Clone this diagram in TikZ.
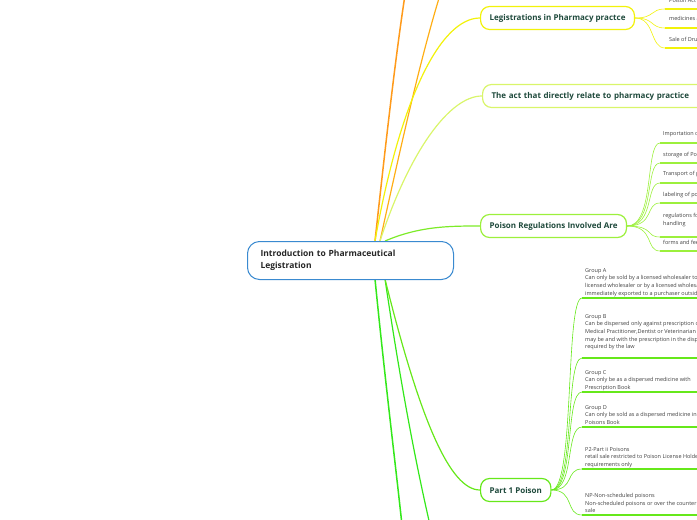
\documentclass[tikz,border=0pt]{standalone}
\usepackage{fontspec}
\setmainfont{Open Sans}
\definecolor{txt}{HTML}{1F4A3C}
\definecolor{yel}{HTML}{F2F20A}
\definecolor{lyel}{HTML}{D9F56A}
\definecolor{lgr}{HTML}{9CF03C}
\definecolor{gr}{HTML}{66E81A}
\definecolor{bgr}{HTML}{33E81A}
\definecolor{org}{HTML}{FF9A1A}
\definecolor{blu}{HTML}{3A8AD0}
\begin{document}
\begin{tikzpicture}[x=1pt,y=-1pt,
  br/.style={draw=#1,line width=1.2pt,rounded corners=9pt,minimum height=23pt,inner xsep=9pt,font=\bfseries\fontsize{8}{10}\selectfont,text=txt,anchor=west},
  leaf/.style={font=\fontsize{5.5}{7.7}\selectfont,text=black!75,anchor=north west,align=left,inner sep=0pt},
  ul/.style={draw=#1,line width=1.2pt}]
\useasboundingbox (0,0) rectangle (697,520);
\clip (0,0) rectangle (697,520);
% central branches
\draw[org,line width=1.5pt] (375,241) .. controls (385,150) and (395,60) .. (405,-5);
\draw[org!80!yellow,line width=1.2pt] (380,241) .. controls (400,150) and (420,60) .. (440,-5);
\draw[bgr,line width=1.5pt] (375,279) .. controls (385,380) and (395,460) .. (402,525);
\draw[bgr,line width=1.2pt] (385,279) .. controls (400,380) and (415,460) .. (430,525);
\draw[yel,line width=1.2pt] (375,241) .. controls (400,100) and (440,18) .. (480,18);
\draw[lyel,line width=1.2pt] (380,241) .. controls (410,150) and (450,96) .. (482,96);
\draw[gr!60!lgr,line width=1.2pt] (385,241) .. controls (420,226) and (450,226) .. (480,226);
\draw[gr,line width=1.2pt] (385,279) .. controls (420,420) and (450,490) .. (480,490);
\node[draw=blu,line width=1pt,rounded corners=12pt,minimum width=205pt,minimum height=38pt,anchor=north west,inner xsep=13pt,align=left,font=\bfseries\fontsize{8.5}{12}\selectfont,text=black!85,text width=180pt,fill=white] (c) at (247,241) {Introduction to Pharmaceutical\\Legistration};
\node[br=yel,fill=white] (b1) at (480,18) {Legistrations in Pharmacy practce};
\node[br=lyel,fill=white,text width=212pt,align=left] (b2) at (482,96) {The act that directly relate to pharmacy practice};
\node[br=lgr,fill=white] (b3) at (480,226) {Poison Regulations Involved Are};
\node[br=gr,fill=white] (b4) at (480,490) {Part 1 Poison};
% b1 leaves
\foreach \t/\y/\u in {Poison Act/-2/9, medicines and/16/28, Sale of Drugs/37/48}{
  \draw[yel,line width=0.6pt] (b1.east) .. controls (655,18) and (650,\u) .. (665,\u);
  \draw[ul=yel] (665,\u) -- (700,\u);
  \node[leaf] at (669,\y) {\t};}
% b3 leaves
\foreach \t/\y/\u in {Importation of poisons/131/143, storage of Poisons/152/163, Transport of poisons/171/183, labeling of poisons/192/203, forms and fees/240/251}{
  \draw[lgr,line width=0.6pt] (b3.east) .. controls (655,226) and (645,\u) .. (660,\u);
  \draw[ul=lgr] (660,\u) -- (700,\u);
  \node[leaf] at (663,\y) {\t};}
\draw[lgr,line width=0.6pt] (b3.east) .. controls (655,226) and (645,237) .. (660,237);
\draw[ul=lgr] (660,237) -- (700,237);
\node[leaf] at (663,213) {regulations for\\handling};
% b4 leaves
\draw[gr,line width=0.6pt] (b4.east) .. controls (575,490) and (565,298) .. (582,298);
\draw[gr,line width=0.6pt] (b4.east) .. controls (575,490) and (565,358) .. (582,358);
\draw[gr,line width=0.6pt] (b4.east) .. controls (575,490) and (565,392) .. (582,392);
\draw[gr,line width=0.6pt] (b4.east) .. controls (575,490) and (565,427) .. (582,427);
\draw[gr,line width=0.6pt] (b4.east) .. controls (575,490) and (565,469) .. (582,469);
\draw[gr,line width=0.6pt] (b4.east) .. controls (575,490) and (565,515) .. (582,515);
\draw[ul=gr] (582,298) -- (700,298);
\draw[ul=gr] (582,358) -- (700,358);
\draw[ul=gr] (582,392) -- (700,392);
\draw[ul=gr] (582,427) -- (700,427);
\draw[ul=gr] (582,469) -- (700,469);
\draw[ul=gr] (582,515) -- (700,515);
\node[leaf] at (585,268) {Group A\\Can only  be sold by a licensed wholesaler to a\\licensed wholesaler or by a licensed wholesaler\\immediately exported to a purchaser outside};
\node[leaf] at (585,314) {Group B\\Can be dispersed only against prescription of a\\Medical Practitioner,Dentist or Veterinarian\\may be and with the prescription in the dispensing\\required by the law};
\node[leaf] at (585,370) {Group C\\Can only be as a dispersed medicine with\\Prescription Book};
\node[leaf] at (585,405) {Group D\\Can only be sold as a dispersed medicine in\\Poisons Book};
\node[leaf] at (585,447) {P2-Part ii Poisons\\retail sale restricted to Poison License Holders\\requirements only};
\node[leaf] at (585,493) {NP-Non-scheduled poisons\\Non-scheduled poisons or over the counter\\sale};
\end{tikzpicture}
\end{document}
